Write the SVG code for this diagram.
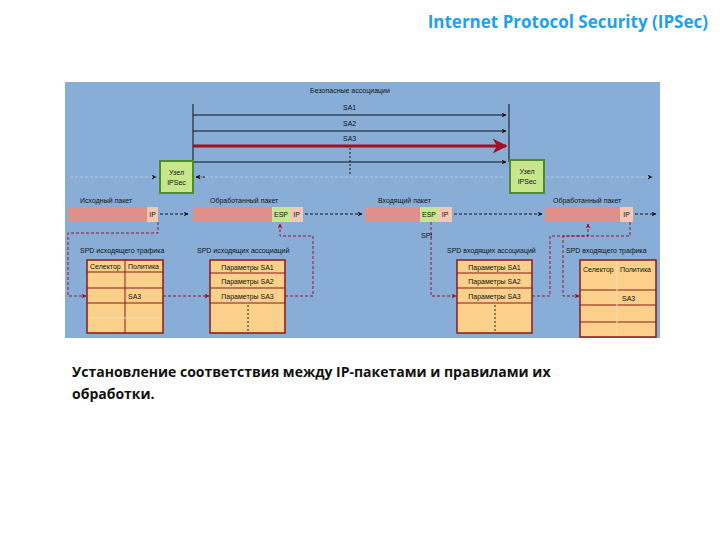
<svg xmlns="http://www.w3.org/2000/svg" width="720" height="540" viewBox="0 0 720 540">
<defs>
<marker id="ab" viewBox="0 0 10 10" refX="9" refY="5" markerWidth="5" markerHeight="5" orient="auto"><path d="M0,0L10,5L0,10L3,5z" fill="#111"/></marker>
<marker id="ar" viewBox="0 0 10 10" refX="9" refY="5" markerWidth="5" markerHeight="5" orient="auto"><path d="M0,0L10,5L0,10L3,5z" fill="#a01020"/></marker>
<style>
.t{font-family:"Liberation Sans",Arial,sans-serif;font-size:7px;fill:#111}
.c{text-anchor:middle}
.bar{fill:#e0908a}.ip{fill:#f6c8b4}.esp{fill:#c8e68c}
.node{fill:#c8e68c;stroke:#4e8a2e;stroke-width:2}
.tbl{fill:#fbd08a;stroke:#8a1a1a;stroke-width:1.5}
.ln{stroke:#8a1a1a;stroke-width:1;fill:none}
.rd{stroke:#a01020;stroke-width:1;stroke-dasharray:3,2;fill:none;marker-end:url(#ar)}
.bd{stroke:#111;stroke-width:1;stroke-dasharray:3,2;fill:none;marker-end:url(#ab)}
.sa{stroke:#111;stroke-width:1;marker-end:url(#ab)}
</style>
</defs>
<text x="708" y="28" text-anchor="end" font-family="Open Sans,Liberation Sans,sans-serif" font-weight="bold" font-size="17" fill="#1ea0f0">Internet Protocol Security (IPSec)</text>
<rect x="65" y="82" width="595" height="256" fill="#88aed8"/>
<text class="t c" x="350" y="93">Безопасные ассоциации</text>
<g id="connectors">
<line x1="193" y1="104" x2="193" y2="162" stroke="#111"/>
<line x1="509" y1="104" x2="509" y2="162" stroke="#111"/>
<line class="sa" x1="193" y1="115" x2="506" y2="115"/>
<line class="sa" x1="193" y1="131" x2="506" y2="131"/>
<line x1="193" y1="146" x2="506" y2="146" stroke="#a01020" stroke-width="3" marker-end="url(#ar)"/>
<line class="sa" x1="193" y1="162" x2="506" y2="162"/>
<line x1="350" y1="148" x2="350" y2="176" stroke="#111" stroke-dasharray="2,2"/>
<line x1="70" y1="177" x2="156" y2="177" stroke="#b8c8dc" stroke-dasharray="3,2" marker-end="url(#ab)"/>
<line x1="205" y1="177" x2="196" y2="177" stroke="#111" marker-end="url(#ab)"/>
<line x1="200" y1="177" x2="505" y2="177" stroke="#b8c8dc" stroke-dasharray="3,2"/>
<line x1="546" y1="177" x2="652" y2="177" stroke="#b8c8dc" stroke-dasharray="3,2" marker-end="url(#ab)"/>
<line class="bd" x1="160" y1="214" x2="188" y2="214"/>
<line class="bd" x1="305" y1="214" x2="362" y2="214"/>
<line class="bd" x1="454" y1="214" x2="542" y2="214"/>
<line class="bd" x1="635" y1="214" x2="656" y2="214"/>
<polyline class="rd" points="158,222 158,233 68,233 68,296 86,296"/>
<polyline class="rd" points="163,296 209,296"/>
<polyline class="rd" points="285,296 313,296 313,236 280,236 280,224"/>
<polyline class="rd" points="431,222 431,296 456,296"/>
<polyline class="rd" points="532,296 550,296 550,236 588,236 588,224"/>
<polyline class="rd" points="630,222 630,236 563,236 563,296 579,296"/>
</g>
<g id="node-left"><rect class="node" x="160" y="161" width="33" height="32"/><text class="t c" x="176.5" y="175">Узел</text><text class="t c" x="176.5" y="185">IPSec</text></g>
<g id="node-right"><rect class="node" x="510" y="160" width="34" height="33"/><text class="t c" x="527" y="174">Узел</text><text class="t c" x="527" y="184">IPSec</text></g>
<g id="labels">
<text class="t" x="343" y="110">SA1</text><text class="t" x="343" y="126">SA2</text><text class="t" x="343" y="141">SA3</text>
<text class="t" x="80" y="203">Исходный пакет</text>
<text class="t" x="210" y="203">Обработанный пакет</text>
<text class="t" x="378" y="203">Входящий пакет</text>
<text class="t" x="553" y="203">Обработанный пакет</text>
<text class="t" x="421" y="238">SPI</text>
<text class="t" x="80" y="253">SPD исходящего трафика</text>
<text class="t" x="197" y="253">SPD исходящих ассоциаций</text>
<text class="t" x="447" y="253">SPD входящих ассоциаций</text>
<text class="t" x="566" y="253">SPD входящего трафика</text>
</g>
<g id="packet1"><rect class="bar" x="68" y="207" width="79" height="15"/><rect class="ip" x="147" y="207" width="11" height="15"/><text class="t c" x="152.5" y="217">IP</text></g>
<g id="packet2"><rect class="bar" x="193" y="207" width="79" height="15"/><rect class="esp" x="272" y="207" width="18" height="15"/><rect class="ip" x="290" y="207" width="13" height="15"/><text class="t c" x="281" y="217">ESP</text><text class="t c" x="296.5" y="217">IP</text></g>
<g id="packet3"><rect class="bar" x="365" y="207" width="55" height="15"/><rect class="esp" x="420" y="207" width="18" height="15"/><rect class="ip" x="438" y="207" width="14" height="15"/><text class="t c" x="429" y="217">ESP</text><text class="t c" x="445" y="217">IP</text></g>
<g id="packet4"><rect class="bar" x="545" y="207" width="75" height="15"/><rect class="ip" x="620" y="207" width="13" height="15"/><text class="t c" x="626.5" y="217">IP</text></g>
<g id="table1"><rect class="tbl" x="87" y="260" width="76" height="73"/>
<path class="ln" d="M87,272H163M87,288H163M87,303H163M125,260V333"/><path d="M88,318H162" stroke="#f4dcb0"/>
<text class="t" x="90" y="269">Селектор</text><text class="t" x="128" y="269">Политика</text><text class="t" x="128" y="299">SA3</text></g>
<g id="table2"><rect class="tbl" x="210" y="260" width="75" height="73"/>
<path class="ln" d="M210,273H285M210,288H285M210,303H285"/><line x1="248" y1="305" x2="248" y2="333" stroke="#222" stroke-dasharray="2,2"/>
<text class="t c" x="247.5" y="270">Параметры SA1</text><text class="t c" x="247.5" y="284">Параметры SA2</text><text class="t c" x="247.5" y="299">Параметры SA3</text></g>
<g id="table3"><rect class="tbl" x="457" y="260" width="75" height="73"/>
<path class="ln" d="M457,273H532M457,288H532M457,303H532"/><line x1="495" y1="305" x2="495" y2="333" stroke="#222" stroke-dasharray="2,2"/>
<text class="t c" x="494.5" y="270">Параметры SA1</text><text class="t c" x="494.5" y="284">Параметры SA2</text><text class="t c" x="494.5" y="299">Параметры SA3</text></g>
<g id="table4"><rect class="tbl" x="580" y="260" width="76" height="77"/>
<path class="ln" d="M580,290H656M580,305H656M580,322H656"/><path d="M617,261V336" stroke="#f4dcb0"/>
<text class="t" x="583" y="272">Селектор</text><text class="t" x="620" y="272">Политика</text><text class="t" x="622" y="301">SA3</text></g>
<text font-family="Open Sans,Liberation Sans,sans-serif" font-weight="bold" font-size="14" fill="#111"><tspan x="72" y="377">Установление соответствия между IP-пакетами и правилами их</tspan><tspan x="72" y="399">обработки.</tspan></text>
</svg>
